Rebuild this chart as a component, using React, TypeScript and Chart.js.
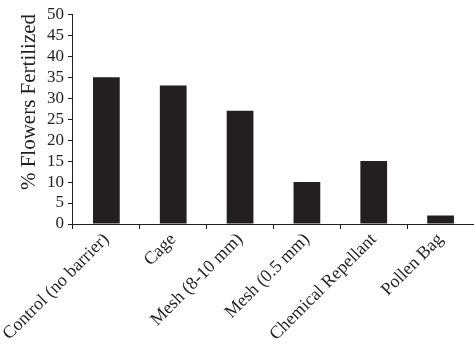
import React, { useEffect, useRef } from "react";
import { Chart, registerables } from "chart.js";

Chart.register(...registerables);

const categories = [
  "Control (no barrier)",
  "Cage",
  "Mesh (8-10 mm)",
  "Mesh (0.5 mm)",
  "Chemical Repellant",
  "Pollen Bag",
];
const fertilized = [35, 33, 27, 10, 15, 2];
const yTitle = "% Flowers Fertilized";

const FONT = "Liberation Serif";
const INK = "#231f20";

const yTitlePlugin = {
  id: "yTitlePlugin",
  afterDraw(chart: any) {
    const ctx = chart.ctx;
    ctx.save();
    ctx.translate(29, 102);
    ctx.rotate(-Math.PI / 2);
    ctx.font = `21px "${FONT}"`;
    ctx.fillStyle = INK;
    ctx.textAlign = "center";
    ctx.textBaseline = "middle";
    ctx.fillText(yTitle, 0, 0);
    ctx.restore();
  },
};

export default function App() {
  const ref = useRef<HTMLCanvasElement>(null);
  useEffect(() => {
    const chart = new Chart(ref.current!, {
      type: "bar",
      data: {
        labels: categories,
        datasets: [
          {
            data: fertilized,
            backgroundColor: INK,
            borderWidth: 0,
            categoryPercentage: 0.8,
            barPercentage: 0.5,
          },
        ],
      },
      plugins: [yTitlePlugin],
      options: {
        animation: false,
        responsive: false,
        maintainAspectRatio: false,
        layout: { padding: { top: 8, right: 0, left: 0, bottom: 0 } },
        plugins: {
          legend: { display: false },
          tooltip: { enabled: false },
        },
        scales: {
          x: {
            offset: true,
            border: { display: true, color: INK, width: 1 },
            grid: {
              display: true,
              offset: true,
              drawOnChartArea: false,
              drawTicks: true,
              tickLength: 5,
              color: INK,
            },
            ticks: {
              minRotation: 45,
              maxRotation: 45,
              autoSkip: false,
              color: INK,
              font: { family: FONT, size: 18 },
              padding: 0,
            },
            afterFit(scale: any) {
              scale.height = 123;
            },
          },
          y: {
            min: 0,
            max: 50,
            border: { display: true, color: INK, width: 1 },
            grid: {
              display: true,
              drawOnChartArea: false,
              drawTicks: true,
              tickLength: 5,
              color: INK,
            },
            ticks: {
              stepSize: 5,
              autoSkip: false,
              color: INK,
              font: { family: FONT, size: 17 },
              padding: 4,
            },
            afterFit(scale: any) {
              scale.width = 72;
            },
          },
        },
      },
    });
    return () => chart.destroy();
  }, []);
  return (
    <div style={{ position: "fixed", left: 0, top: 0, width: 474, height: 347, background: "#fff" }}>
      <canvas ref={ref} width={474} height={347} />
    </div>
  );
}
